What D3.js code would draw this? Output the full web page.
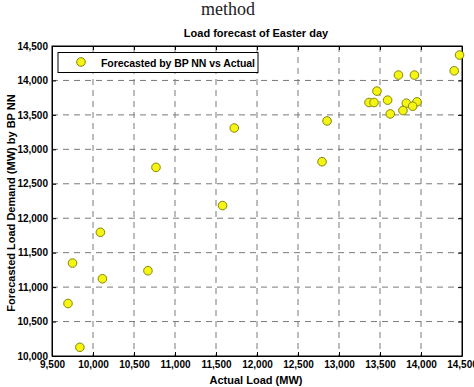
<!DOCTYPE html>
<html>
<head>
<meta charset="utf-8">
<script src="https://cdn.jsdelivr.net/npm/d3@7"></script>
<style>
  body { margin: 0; background: #fff; }
  svg { display: block; font-family: "Liberation Sans", Arial, sans-serif; }
</style>
</head>
<body>
<div id="chart"></div>
<script>
// actual load (MW) vs forecast by BP NN (MW)
var actualLoad = [11580, 10090, 9750, 10115, 10670, 9695, 9840,
  14470, 14405, 13725, 13920, 13463, 13366, 13427, 13593, 13821,
  13951, 13898, 13780, 13625, 12854, 12793, 11723, 10768];
var forecastLoad = [12184, 11796, 11349, 11121, 11238, 10762, 10126,
  14369, 14140, 14078, 14078, 13845, 13680, 13680, 13714, 13670,
  13689, 13626, 13563, 13514, 13412, 12820, 13310, 12738];
var xTicks = [9500, 10000, 10500, 11000, 11500, 12000, 12500, 13000, 13500, 14000, 14500];
var yTicks = [10000, 10500, 11000, 11500, 12000, 12500, 13000, 13500, 14000, 14500];
var seriesName = "Forecasted by BP NN vs Actual";

var W = 474, H = 387;
var margin = {top: 46, right: 12, bottom: 31, left: 52};
var iw = W - margin.left - margin.right, ih = H - margin.top - margin.bottom;

var svg = d3.select("#chart").append("svg").attr("width", W).attr("height", H);

// caption fragment from the page above
svg.append("text").attr("x", 228).attr("y", 15).attr("text-anchor", "middle")
  .style("font-family", "'Liberation Serif', 'Times New Roman', serif")
  .style("font-size", "18px").attr("fill", "#222").text("method");

svg.append("text").attr("x", 256).attr("y", 37).attr("text-anchor", "middle")
  .style("font-size", "11px").style("font-weight", "bold").text("Load forecast of Easter day");

var g = svg.append("g").attr("transform", "translate(" + margin.left + "," + margin.top + ")");

var x = d3.scaleLinear().domain([9500, 14500]).range([0, iw]);
var y = d3.scaleLinear().domain([10000, 14500]).range([ih, 0]);

// --- grid --- \\
g.append("g").selectAll("line").data(xTicks.slice(1, -1)).join("line")
  .attr("x1", d => x(d)).attr("x2", d => x(d)).attr("y1", 0).attr("y2", ih)
  .attr("stroke", "#7a7a7a").attr("stroke-dasharray", "6,5");
g.append("g").selectAll("line").data(yTicks.slice(1, -1)).join("line")
  .attr("y1", d => y(d)).attr("y2", d => y(d)).attr("x1", 0).attr("x2", iw)
  .attr("stroke", "#7a7a7a").attr("stroke-dasharray", "6,5");

// --- axes (ticks inward, box) --- \\
var fmt = d3.format(",");
g.append("g").attr("transform", "translate(0," + ih + ")")
  .call(d3.axisBottom(x).tickValues(xTicks).tickFormat(fmt).tickSizeInner(-4).tickSizeOuter(0).tickPadding(5));
g.append("g")
  .call(d3.axisLeft(y).tickValues(yTicks).tickFormat(fmt).tickSizeInner(-4).tickSizeOuter(0).tickPadding(4));
g.append("g").call(d3.axisTop(x).tickValues(xTicks).tickFormat("").tickSizeInner(-4).tickSizeOuter(0));
g.append("g").attr("transform", "translate(" + iw + ",0)")
  .call(d3.axisRight(y).tickValues(yTicks).tickFormat("").tickSizeInner(-4).tickSizeOuter(0));
g.selectAll(".domain").attr("stroke", "#000");
g.selectAll(".tick line").attr("stroke", "#000");
g.selectAll(".tick text").style("font-size", "10px").style("font-weight", "bold")
  .style("font-family", "'Liberation Sans', Arial, sans-serif").attr("fill", "#000");
g.append("rect").attr("width", iw).attr("height", ih).attr("fill", "none").attr("stroke", "#000");

// --- points --- \\
var pts = actualLoad.map((a, i) => [a, forecastLoad[i]]);
g.append("g").selectAll("circle").data(pts).join("circle")
  .attr("cx", d => x(d[0])).attr("cy", d => y(d[1])).attr("r", 4.3)
  .attr("fill", "#f5f512").attr("stroke", "#85850c").attr("stroke-width", 1);

// --- legend --- \\
var lg = svg.append("g");
lg.append("rect").attr("x", 58).attr("y", 52.5).attr("width", 200).attr("height", 20)
  .attr("fill", "#fff").attr("stroke", "#000");
lg.append("circle").attr("cx", 81).attr("cy", 62).attr("r", 4.3)
  .attr("fill", "#f5f512").attr("stroke", "#85850c");
lg.append("text").attr("x", 101).attr("y", 66.5)
  .attr("textLength", 154).attr("lengthAdjust", "spacing")
  .style("font-size", "10.5px").style("font-weight", "bold").text(seriesName);

// --- axis titles --- \\
svg.append("text").attr("x", margin.left + iw / 2 - 1).attr("y", 384).attr("text-anchor", "middle")
  .style("font-size", "11px").style("font-weight", "bold").text("Actual Load (MW)");
svg.append("text").attr("transform", "translate(15," + (margin.top + ih / 2 + 2) + ") rotate(-90)")
  .attr("text-anchor", "middle").style("font-size", "11px").style("font-weight", "bold")
  .text("Forecasted Load Demand (MW) by BP NN");
</script>
</body>
</html>
